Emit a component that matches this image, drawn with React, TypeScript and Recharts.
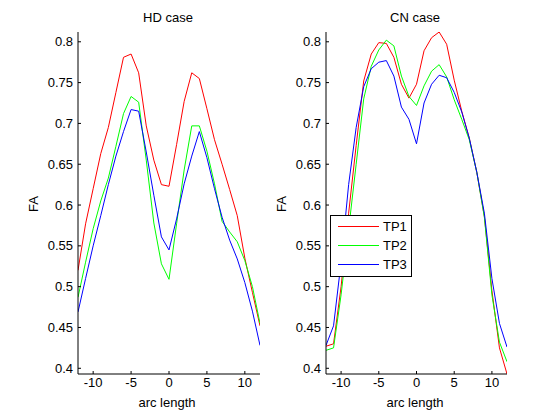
import { LineChart, Line, XAxis, YAxis, Legend } from 'recharts';

const arcLength = [-12, -11, -10, -9, -8, -7, -6, -5, -4, -3, -2, -1, 0, 1, 2, 3, 4, 5, 6, 7, 8, 9, 10, 11, 12];

// HD case
const hdTP1 = [0.52, 0.577, 0.62, 0.663, 0.695, 0.738, 0.781, 0.785, 0.762, 0.697, 0.655, 0.625, 0.623, 0.674, 0.727, 0.762, 0.755, 0.718, 0.68, 0.65, 0.619, 0.587, 0.535, 0.493, 0.452];
const hdTP2 = [0.487, 0.53, 0.571, 0.605, 0.633, 0.672, 0.712, 0.733, 0.726, 0.655, 0.578, 0.528, 0.509, 0.577, 0.643, 0.697, 0.697, 0.666, 0.626, 0.58, 0.567, 0.555, 0.532, 0.5, 0.455];
const hdTP3 = [0.469, 0.51, 0.55, 0.587, 0.625, 0.66, 0.69, 0.717, 0.715, 0.665, 0.612, 0.561, 0.545, 0.583, 0.626, 0.66, 0.69, 0.658, 0.62, 0.585, 0.557, 0.534, 0.505, 0.47, 0.428];

// CN case
const cnTP1 = [0.427, 0.43, 0.5, 0.59, 0.673, 0.752, 0.785, 0.799, 0.798, 0.781, 0.748, 0.731, 0.748, 0.789, 0.805, 0.812, 0.797, 0.753, 0.715, 0.682, 0.64, 0.586, 0.495, 0.425, 0.393];
const cnTP2 = [0.422, 0.425, 0.49, 0.57, 0.65, 0.73, 0.77, 0.79, 0.802, 0.795, 0.758, 0.733, 0.722, 0.746, 0.764, 0.772, 0.757, 0.729, 0.705, 0.68, 0.64, 0.585, 0.49, 0.432, 0.408];
const cnTP3 = [0.428, 0.452, 0.53, 0.625, 0.695, 0.745, 0.767, 0.775, 0.777, 0.758, 0.72, 0.705, 0.675, 0.725, 0.748, 0.759, 0.756, 0.738, 0.714, 0.682, 0.64, 0.59, 0.51, 0.455, 0.426];

const seriesNames = ['TP1', 'TP2', 'TP3'];
const seriesColors = ['#ff0000', '#00ff00', '#0000ff'];
const xTicks = [-10, -5, 0, 5, 10];
const yTicks = [0.4, 0.45, 0.5, 0.55, 0.6, 0.65, 0.7, 0.75, 0.8];

const font = '"Liberation Sans", Arial, sans-serif';

function buildRows(a: number[], b: number[], c: number[]) {
  return arcLength.map((x, i) => ({ x, TP1: a[i], TP2: b[i], TP3: c[i] }));
}

const hdRows = buildRows(hdTP1, hdTP2, hdTP3);
const cnRows = buildRows(cnTP1, cnTP2, cnTP3);

const tickStyle = { fill: '#000', fontSize: 13, fontFamily: font };

function renderLegend(props: any) {
  const { payload } = props;
  return (
    <div
      style={{
        width: 80,
        height: 59,
        border: '1px solid #000',
        background: '#fff',
        padding: '1px 0 0 0',
        boxSizing: 'content-box',
        fontFamily: font,
        fontSize: 13,
      }}
    >
      {payload.map((entry: any) => (
        <div key={entry.value} style={{ display: 'flex', alignItems: 'center', height: 19 }}>
          <div style={{ width: 41, height: 1, background: entry.color, marginLeft: 7, marginRight: 4 }} />
          <span>{entry.value}</span>
        </div>
      ))}
    </div>
  );
}

function TextAt({ x, y, text, rotate }: { x: number; y: number; text: string; rotate?: boolean }) {
  return (
    <div
      style={{
        position: 'absolute',
        left: x,
        top: y,
        transform: `translate(-50%, -50%)${rotate ? ' rotate(-90deg)' : ''}`,
        fontFamily: font,
        fontSize: 13,
        whiteSpace: 'nowrap',
        color: '#000',
      }}
    >
      {text}
    </div>
  );
}

function Panel({ rows, margin, yWidth, showLegend }: { rows: any[]; margin: any; yWidth: number; showLegend?: boolean }) {
  return (
    <LineChart width={280} height={420} data={rows} margin={margin}>
      <XAxis
        dataKey="x"
        type="number"
        domain={[-12, 12]}
        ticks={xTicks}
        allowDataOverflow
        height={30}
        tick={tickStyle}
        tickSize={-3}
        tickMargin={7}
        stroke="#000"
        tickLine={{ stroke: '#000' }}
      />
      <YAxis
        type="number"
        domain={[0.393, 0.812]}
        ticks={yTicks}
        allowDataOverflow
        width={yWidth}
        tick={tickStyle}
        tickSize={-3}
        tickMargin={8}
        stroke="#000"
        tickLine={{ stroke: '#000' }}
      />
      {seriesNames.map((name, i) => (
        <Line
          key={name}
          type="linear"
          dataKey={name}
          stroke={seriesColors[i]}
          strokeWidth={1}
          dot={false}
          isAnimationActive={false}
        />
      ))}
      {showLegend && (
        <Legend
          layout="horizontal"
          verticalAlign="middle"
          align="center"
          content={renderLegend}
          wrapperStyle={{ position: 'absolute', left: 50, top: 215, width: 'auto', height: 'auto' }}
        />
      )}
    </LineChart>
  );
}

export default function App() {
  return (
    <div style={{ position: 'absolute', left: 0, top: 0, width: 560, height: 420, background: '#fff' }}>
      <div style={{ position: 'absolute', left: 0, top: 0 }}>
        <Panel rows={hdRows} margin={{ top: 32, right: 20, bottom: 16, left: 28 }} yWidth={50} />
      </div>
      <div style={{ position: 'absolute', left: 280, top: 0 }}>
        <Panel rows={cnRows} margin={{ top: 32, right: 53, bottom: 16, left: 0 }} yWidth={46} showLegend />
      </div>
      <TextAt x={168} y={17} text="HD case" />
      <TextAt x={415} y={17} text="CN case" />
      <TextAt x={167} y={402} text="arc length" />
      <TextAt x={415} y={402} text="arc length" />
      <TextAt x={33} y={204} text="FA" rotate />
      <TextAt x={281} y={204} text="FA" rotate />
    </div>
  );
}
